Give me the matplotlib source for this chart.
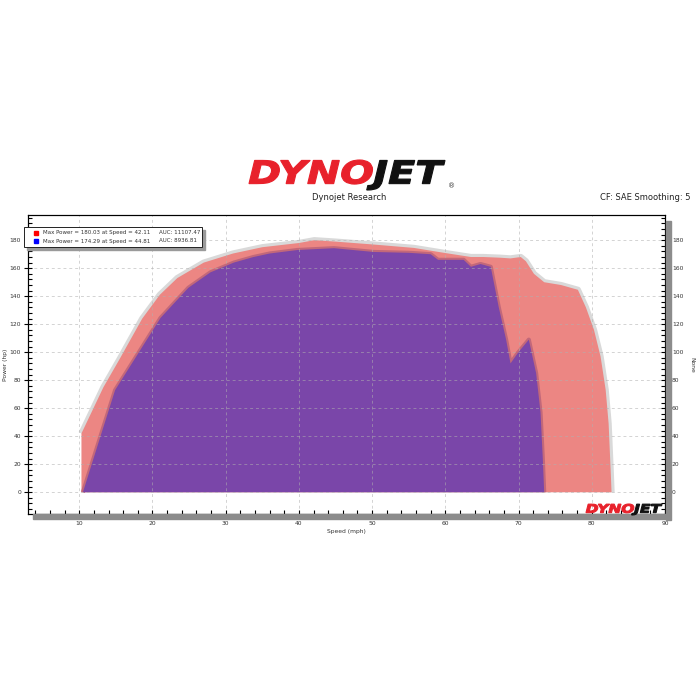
import matplotlib
matplotlib.use('Agg')
import matplotlib.pyplot as plt
from matplotlib.patches import Rectangle, PathPatch
from matplotlib.textpath import TextPath
from matplotlib.font_manager import FontProperties
from matplotlib.transforms import Affine2D
from matplotlib.ticker import MultipleLocator

# Run 1 (red) - speed (mph) vs power (hp)
red_speed = [10.3, 10.3, 13.3, 15.5, 18.6, 21.0, 23.4, 27.0, 31.0, 35.0, 40.0, 42.1,
             45.0, 50.0, 55.7, 59.8, 63.5, 65.2, 67.5, 68.9, 70.3, 71.0, 72.1, 73.5,
             75.8, 78.1, 79.2, 80.3, 81.2, 81.9, 82.3, 82.6, 82.7]
red_hp = [0, 42, 75, 95, 124, 141, 153, 164, 170.5, 175, 178, 180,
          179, 177, 174.5, 171, 168, 168, 167.5, 167, 168, 165, 156, 150,
          148, 144.6, 132, 116, 97, 73, 49, 13, 0]

# Run 2 (blue/purple)
blue_speed = [10.5, 12.6, 14.9, 21.1, 24.9, 27.9, 31.1, 33.8, 36.0, 39.8, 44.8,
              50.2, 55.0, 58.0, 59.0, 62.5, 63.5, 64.8, 66.2, 67.3, 68.3, 68.9,
              69.9, 71.4, 72.4, 73.0, 73.3, 73.5]
blue_hp = [0, 35, 73, 124.5, 146, 157, 164, 168, 170.5, 173, 174.3,
           171.6, 171, 170, 166, 166, 161, 163, 161, 132, 109, 92,
           99.5, 109, 85, 57, 25, 0]

legend_lines = ["Max Power = 180.03 at Speed = 42.11", "Max Power = 174.29 at Speed = 44.81"]
legend_auc = ["AUC: 11107.47", "AUC: 8936.81"]
legend_colors = ['#ff0000', '#0000ff']

W = H = 700.0


def fx(px):
    return px / W


def fy(py):
    return (H - py) / H


fig = plt.figure(figsize=(7, 7), dpi=100)
fig.patch.set_facecolor('white')

# shadow bars behind the frame
fig.patches.append(Rectangle((fx(666), fy(520)), 5 / W, (520 - 221) / H,
                             transform=fig.transFigure, color='#8c8c8c', zorder=0))
fig.patches.append(Rectangle((fx(33), fy(519)), (670 - 33) / W, 5 / H,
                             transform=fig.transFigure, color='#8c8c8c', zorder=0))

ax = fig.add_axes([fx(28), fy(514), (665 - 28) / W, (514 - 215) / H])
ax.set_xlim(3, 90)
ax.set_ylim(-15.5, 198)

# red run with light gray halo (only above the baseline)
ax.plot(red_speed[1:], red_hp[1:], color='#d9d9d9', lw=4.5, zorder=1,
        solid_joinstyle='round', solid_capstyle='butt')
ax.fill(red_speed, red_hp, color='#ec8683', lw=0, zorder=1.2)
# purple run with darker edge
ax.plot(blue_speed, blue_hp, color='#c2687a', lw=3, zorder=1.4,
        solid_joinstyle='round', solid_capstyle='butt')
ax.fill(blue_speed, blue_hp, color='#7a46a9', lw=0, zorder=1.6)

ax.xaxis.set_major_locator(MultipleLocator(10))
ax.xaxis.set_minor_locator(MultipleLocator(2))
ax.set_yticks(range(0, 181, 20))
ax.yaxis.set_minor_locator(MultipleLocator(4))
ax.grid(True, which='major', color='#b0b0b0', linestyle=(0, (3, 3)), linewidth=0.7, alpha=0.55)
ax.set_axisbelow(False)
ax.tick_params(which='major', direction='inout', length=6, width=0.8, labelsize=4.3,
               labelcolor='#333333', pad=2)
ax.tick_params(which='minor', direction='in', length=3, width=0.8)
ax.tick_params(top=False, which='both')
for s in ax.spines.values():
    s.set_linewidth(0.8)

ax.set_xlabel('Speed (mph)', fontsize=4.3, color='#333333', labelpad=2)
ax.set_ylabel('Power (hp)', fontsize=4.3, color='#333333', labelpad=1)

ax2 = ax.twinx()
ax2.set_ylim(ax.get_ylim())
ax2.set_yticks(range(0, 181, 20))
ax2.yaxis.set_minor_locator(MultipleLocator(4))
ax2.tick_params(which='major', direction='inout', length=6, width=0.8, labelsize=4.3,
                labelcolor='#333333', pad=2)
ax2.tick_params(which='minor', direction='in', length=3, width=0.8)
ax2.set_ylabel('None', fontsize=4.3, color='#333333', rotation=270, labelpad=8)


def logo(x0, y0, x1, y1, zorder=5):
    # draws "DYNOJET" scaled into a pixel box (image coords, top-left origin)
    prop = FontProperties(family='DejaVu Sans', weight='bold', style='italic')
    p1 = TextPath((0, 0), 'DYNO', size=10, prop=prop)
    adv = p1.get_extents().x1 + 0.2
    p2 = TextPath((adv, 0), 'JET', size=10, prop=prop)
    e1, e2 = p1.get_extents(), p2.get_extents()
    bx0, bx1 = min(e1.x0, e2.x0), max(e1.x1, e2.x1)
    by0, by1 = min(e1.y0, e2.y0), max(e1.y1, e2.y1)
    sx = (x1 - x0) / (bx1 - bx0)
    sy = (y1 - y0) / (by1 - by0)
    tr = Affine2D().translate(-bx0, -by0).scale(sx, sy).translate(x0, H - y1)
    for p, c in [(p1, '#e8212b'), (p2, '#111111')]:
        patch = PathPatch(tr.transform_path(p), facecolor=c, edgecolor=c, lw=0.8,
                          transform=None, zorder=zorder)
        fig.patches.append(patch)


logo(249, 160, 445, 190)
fig.text(fx(448), fy(186), '®', fontsize=5, color='#333333', ha='left', va='center')
fig.text(fx(349), fy(198), 'Dynojet Research', fontsize=6, color='#222222', ha='center', va='center')
fig.text(fx(690), fy(198), 'CF: SAE Smoothing: 5', fontsize=6, color='#222222', ha='right', va='center')

# small logo in lower right of plot
logo(586, 504, 662, 515, zorder=6)

# legend box
fig.patches.append(Rectangle((fx(27), fy(250)), (205 - 27) / W, 20 / H,
                             transform=fig.transFigure, color='#9a9a9a', zorder=7))
fig.patches.append(Rectangle((fx(24), fy(247)), (202 - 24) / W, 20 / H,
                             transform=fig.transFigure, facecolor='white',
                             edgecolor='#222222', lw=0.7, zorder=8))
for i, (txt, auc, col) in enumerate(zip(legend_lines, legend_auc, legend_colors)):
    yy = 232.5 + i * 8.5
    fig.patches.append(Rectangle((fx(34), fy(yy + 2)), 4 / W, 4 / H,
                                 transform=fig.transFigure, color=col, zorder=9))
    fig.text(fx(43), fy(yy), txt, fontsize=4, color='#333333', va='center', zorder=9)
    fig.text(fx(159), fy(yy), auc, fontsize=4, color='#333333', va='center', zorder=9)

fig.savefig('out.png', dpi=100)
